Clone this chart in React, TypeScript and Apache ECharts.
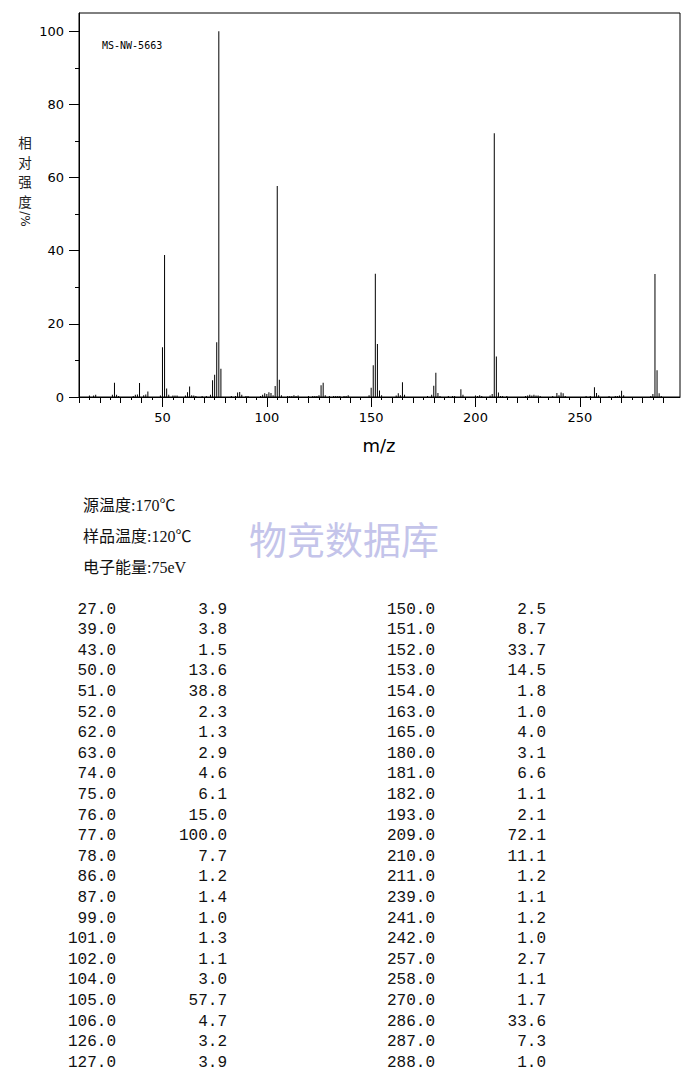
import React, { useEffect, useRef } from "react";
import * as echarts from "echarts";

// Peaks listed in the table (m/z, relative intensity %)
const tableMz = [
  27.0, 39.0, 43.0, 50.0, 51.0, 52.0, 62.0, 63.0, 74.0, 75.0, 76.0, 77.0, 78.0, 86.0, 87.0, 99.0, 101.0, 102.0, 104.0, 105.0, 106.0, 126.0, 127.0,
  150.0, 151.0, 152.0, 153.0, 154.0, 163.0, 165.0, 180.0, 181.0, 182.0, 193.0, 209.0, 210.0, 211.0, 239.0, 241.0, 242.0, 257.0, 258.0, 270.0, 286.0, 287.0, 288.0,
];
const tableIntensity = [
  3.9, 3.8, 1.5, 13.6, 38.8, 2.3, 1.3, 2.9, 4.6, 6.1, 15.0, 100.0, 7.7, 1.2, 1.4, 1.0, 1.3, 1.1, 3.0, 57.7, 4.7, 3.2, 3.9,
  2.5, 8.7, 33.7, 14.5, 1.8, 1.0, 4.0, 3.1, 6.6, 1.1, 2.1, 72.1, 11.1, 1.2, 1.1, 1.2, 1.0, 2.7, 1.1, 1.7, 33.6, 7.3, 1.0,
];

// Small peaks (< 1 %)
const minorMz = [
  15, 17, 18, 26, 28, 29, 36, 37, 38, 41, 42, 49, 53, 55, 56, 57, 61, 64, 65, 66, 69, 71, 73,
  83, 85, 88, 90, 91, 97, 98, 100, 103, 107, 110, 111, 112, 113, 114, 115, 120, 122, 123, 124, 125, 128, 130,
  132, 133, 134, 135, 137, 138, 139, 149, 155, 162, 164, 166, 177, 179, 183, 187, 189, 190, 194,
  200, 201, 202, 203, 207, 208, 212, 213, 215, 224, 225, 226, 227, 228, 229, 230, 231, 237, 240, 243,
  253, 255, 259, 264, 267, 268, 269, 271, 284, 285, 289,
];
const minorIntensity = [
  0.4, 0.4, 0.6, 0.6, 0.6, 0.3, 0.3, 0.6, 0.7, 0.5, 0.7, 0.4, 0.6, 0.4, 0.4, 0.4, 0.4, 0.5, 0.4, 0.3, 0.3, 0.3, 0.6,
  0.3, 0.3, 0.6, 0.3, 0.3, 0.3, 0.6, 0.8, 0.5, 0.5, 0.3, 0.3, 0.3, 0.5, 0.3, 0.4, 0.3, 0.3, 0.3, 0.3, 0.5, 0.5, 0.3,
  0.3, 0.3, 0.3, 0.3, 0.3, 0.3, 0.5, 0.5, 0.5, 0.4, 0.5, 0.6, 0.3, 0.6, 0.3, 0.3, 0.3, 0.3, 0.6,
  0.4, 0.3, 0.5, 0.3, 0.4, 0.8, 0.3, 0.3, 0.3, 0.3, 0.4, 0.6, 0.4, 0.6, 0.4, 0.4, 0.3, 0.3, 0.5, 0.3,
  0.3, 0.3, 0.5, 0.3, 0.3, 0.3, 0.4, 0.5, 0.3, 0.8, 0.3,
];

const xLabelValues = [50, 100, 150, 200, 250];
const yLabelValues = [0, 20, 40, 60, 80, 100];
const yMinorTickValues = [10, 30, 50, 70, 90];
const xAxisName = "m/z";
const yAxisChars = ["相", "对", "强", "度"];
const yAxisUnit = "/%";
const specimenId = "MS-NW-5663";
const infoLines = ["源温度:170℃", "样品温度:120℃", "电子能量:75eV"];
const watermark = "物竞数据库";

const X_MIN = 10;
const X_MAX = 298;

export default function App() {
  const ref = useRef<HTMLDivElement>(null);

  useEffect(() => {
    if (!ref.current) return;
    const chart = echarts.init(ref.current, undefined, { renderer: "svg" });

    const xMidTicks: number[] = [];
    const xMinorTicks: number[] = [];
    for (let v = 10; v <= 290; v += 5) {
      if (v % 50 === 0) continue;
      if (v % 10 === 0) xMidTicks.push(v);
      else xMinorTicks.push(v);
    }

    const peaks: [number, number][] = [];
    tableMz.forEach((m, i) => peaks.push([m, tableIntensity[i]]));
    minorMz.forEach((m, i) => peaks.push([m, minorIntensity[i]]));
    peaks.sort((a, b) => a[0] - b[0]);

    const black = "#000";
    const tickFont = "DejaVu Sans, Verdana, sans-serif";

    const baseX = {
      type: "value",
      min: X_MIN,
      max: X_MAX,
      position: "bottom",
      splitLine: { show: false },
      axisLine: { show: false },
      axisLabel: { show: false },
    };
    const baseY = {
      type: "value",
      min: 0,
      max: 105,
      position: "left",
      splitLine: { show: false },
      axisLine: { show: false },
      axisLabel: { show: false },
    };

    const graphics: any[] = [];
    graphics.push({
      type: "text",
      x: 102,
      y: 45,
      style: {
        text: specimenId,
        fill: black,
        font: "10px 'DejaVu Sans Mono', monospace",
        textAlign: "left",
        textVerticalAlign: "middle",
      },
    });
    yAxisChars.forEach((c, i) => {
      graphics.push({
        type: "text",
        x: 25,
        y: 142 + i * 19.6,
        style: {
          text: c,
          fill: "#222",
          font: "13.5px 'Noto Sans CJK SC', sans-serif",
          textAlign: "center",
          textVerticalAlign: "middle",
        },
      });
    });
    graphics.push({
      type: "text",
      x: 25,
      y: 219,
      rotation: -Math.PI / 2,
      style: {
        text: yAxisUnit,
        fill: "#222",
        font: "12px 'DejaVu Sans', sans-serif",
        textAlign: "center",
        textVerticalAlign: "middle",
      },
    });
    graphics.push({
      type: "text",
      x: 379,
      y: 445,
      style: {
        text: xAxisName,
        fill: black,
        font: "18px 'DejaVu Sans', sans-serif",
        textAlign: "center",
        textVerticalAlign: "middle",
      },
    });
    const infoY = [505.5, 536, 567.5];
    infoLines.forEach((t, i) => {
      graphics.push({
        type: "text",
        x: 83,
        y: infoY[i],
        style: {
          text: t,
          fill: "#111",
          font: "16px 'Liberation Serif', 'Noto Sans CJK SC', serif",
          textAlign: "left",
          textVerticalAlign: "middle",
        },
      });
    });
    graphics.push({
      type: "text",
      x: 344,
      y: 537,
      style: {
        text: watermark,
        fill: "#c4c4ea",
        font: "38px 'Noto Sans CJK SC', sans-serif",
        textAlign: "center",
        textVerticalAlign: "middle",
      },
    });

    const rows = Math.ceil(tableMz.length / 2);
    const colRight = [116, 227, 435, 546];
    for (let i = 0; i < rows; i++) {
      const y = 609.5 + i * 20.6;
      for (let c = 0; c < 2; c++) {
        const idx = i + c * rows;
        if (idx >= tableMz.length) continue;
        const vals = [tableMz[idx].toFixed(1), tableIntensity[idx].toFixed(1)];
        vals.forEach((t, k) => {
          graphics.push({
            type: "text",
            x: colRight[c * 2 + k],
            y,
            style: {
              text: t,
              fill: "#111",
              font: "16px 'Liberation Mono', 'DejaVu Sans Mono', monospace",
              textAlign: "right",
              textVerticalAlign: "middle",
            },
          });
        });
      }
    }

    const option: any = {
      animation: false,
      backgroundColor: "#fff",
      grid: {
        left: 79,
        top: 13,
        width: 601,
        height: 384,
        show: true,
        borderColor: black,
        borderWidth: 1,
        backgroundColor: "transparent",
      },
      xAxis: [
        {
          ...baseX,
          axisLine: { show: true, lineStyle: { color: black, width: 1 } },
          axisTick: { show: true, customValues: xLabelValues, length: 10, lineStyle: { color: black, width: 1 } },
          axisLabel: {
            show: true,
            customValues: xLabelValues,
            margin: 14,
            color: black,
            fontSize: 13,
            fontFamily: tickFont,
          },
        },
        {
          ...baseX,
          axisTick: { show: true, customValues: xMidTicks, length: 6, lineStyle: { color: black, width: 1 } },
        },
        {
          ...baseX,
          axisTick: { show: true, customValues: xMinorTicks, length: 3, lineStyle: { color: black, width: 1 } },
        },
      ],
      yAxis: [
        {
          ...baseY,
          axisLine: { show: true, lineStyle: { color: black, width: 1 } },
          axisTick: { show: true, customValues: yLabelValues, length: 10, lineStyle: { color: black, width: 1 } },
          axisLabel: {
            show: true,
            customValues: yLabelValues,
            margin: 15,
            color: black,
            fontSize: 13,
            fontFamily: tickFont,
          },
        },
        {
          ...baseY,
          axisTick: { show: true, customValues: yMinorTickValues, length: 4, lineStyle: { color: black, width: 1 } },
        },
      ],
      series: [
        {
          type: "bar",
          xAxisIndex: 0,
          yAxisIndex: 0,
          data: peaks,
          barWidth: 1,
          silent: true,
          itemStyle: { color: black },
        },
      ],
      graphic: graphics,
    };

    chart.setOption(option);
    return () => chart.dispose();
  }, []);

  return (
    <div
      ref={ref}
      style={{ position: "absolute", left: 0, top: 0, width: 687, height: 1075, background: "#fff" }}
    />
  );
}
